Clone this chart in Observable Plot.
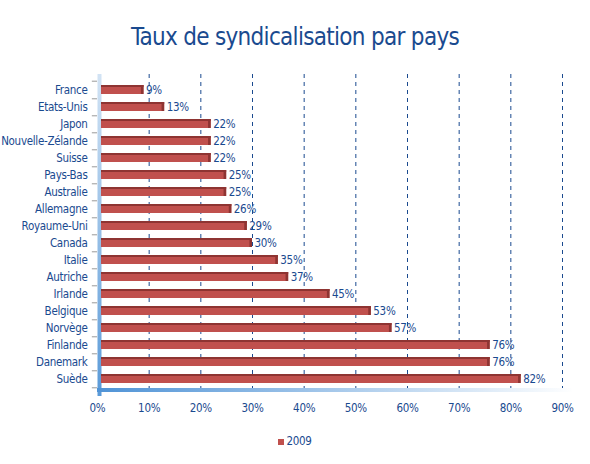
<!DOCTYPE html>
<html lang="fr">
<head>
    <meta charset="UTF-8">
    <title>Taux de syndicalisation par pays</title>
    <script src="https://cdn.jsdelivr.net/npm/d3@7"></script>
    <script src="https://cdn.jsdelivr.net/npm/@observablehq/plot@0.6"></script>
    <style>
        body { margin: 0; background: #fff; width: 590px; height: 464px; overflow: hidden;
               font-family: "DejaVu Sans Condensed", "DejaVu Sans", sans-serif; font-stretch: condensed; }
        h1 { margin: 0; padding-top: 23px; height: 37px; text-align: center; font-weight: normal;
             font-size: 24px; line-height: 28px; color: #1a4a8f; letter-spacing: -0.7px; }
        .legende { text-align: center; font-size: 11.5px; color: #1a4a8f; margin-top: 9px; letter-spacing: -0.3px; }
        .legende span { display: inline-block; width: 6px; height: 6px; background: #c0504d; margin-right: 2px; }
        #graph svg text { letter-spacing: -0.3px; }
    </style>
</head>
<body>
    <h1>Taux de syndicalisation par pays</h1>
    <div id="graph"></div>
    <div class="legende"><span></span>2009</div>

    <script>
    // données (2009)
    const pays = ["France", "Etats-Unis", "Japon", "Nouvelle-Zélande", "Suisse", "Pays-Bas", "Australie",
        "Allemagne", "Royaume-Uni", "Canada", "Italie", "Autriche", "Irlande", "Belgique", "Norvège",
        "Finlande", "Danemark", "Suède"];
    const taux = [9, 13, 22, 22, 22, 25, 25, 26, 29, 30, 35, 37, 45, 53, 57, 76, 76, 82];
    const graduations = [0, 10, 20, 30, 40, 50, 60, 70, 80, 90];

    const data = pays.map((p, i) => ({ pays: p, taux: taux[i] }));
    const bleu = "#1a4a8f";

    const div = document.querySelector("#graph");
    if (div) {
        const MonPlot = Plot.plot({
            width: 590,
            height: 365,
            marginLeft: 97,
            marginRight: 28,
            marginTop: 14,
            marginBottom: 32,
            style: { fontFamily: "DejaVu Sans Condensed, DejaVu Sans, sans-serif", fontSize: "11.5px", color: bleu },
            x: { domain: [0, 90], label: null },
            y: { domain: pays, padding: 0.5, label: null },
            marks: [
                // grille pointillée
                Plot.ruleX(graduations.slice(1), { stroke: bleu, strokeDasharray: "4,4", strokeWidth: 1 }),
                // petites graduations à gauche
                Plot.ruleY(pays, { y: d => d, x1: -1, x2: 0, dy: 8.8, stroke: "#999" }),
                Plot.ruleY([pays[0]], { x1: -1, x2: 0, dy: -8.8, stroke: "#999" }),
                // mur et sol
                Plot.ruleX([0], { stroke: "url(#mur)", strokeWidth: 4, dx: 2, insetBottom: -3 }),
                Plot.ruleY([pays[pays.length - 1]], { x1: 0, x2: 92, dy: 11, stroke: "url(#sol)", strokeWidth: 4 }),
                // barres
                Plot.barX(data, { x: "taux", y: "pays", fill: "#c0504d", insetLeft: 4 }),
                Plot.barX(data, { x: "taux", y: "pays", fill: "#8e3432", insetLeft: 4, insetBottom: 7 }),
                Plot.barX(data, { x1: d => d.taux - 0.5, x2: "taux", y: "pays", fill: "#8e3432" }),
                // étiquettes
                Plot.text(data, { x: "taux", y: "pays", text: d => d.taux + "%", dx: 2, textAnchor: "start", fill: bleu, fontSize: 11.5 }),
                Plot.axisX(graduations, { tickFormat: d => d + "%", tickSize: 0, tickPadding: 10, color: bleu, fontSize: 11.5, label: null }),
                Plot.axisY({ tickSize: 0, tickPadding: 10, color: bleu, fontSize: 11.5, label: null })
            ]
        });

        // dégradés pour le mur et le sol
        const defs = d3.select(MonPlot).insert("defs", ":first-child");
        const mur = defs.append("linearGradient").attr("id", "mur").attr("gradientUnits", "userSpaceOnUse")
            .attr("x1", 0).attr("x2", 0).attr("y1", 14).attr("y2", 336);
        mur.append("stop").attr("offset", "0%").attr("stop-color", "#d2e3f4");
        mur.append("stop").attr("offset", "100%").attr("stop-color", "#5a9ad8");
        const sol = defs.append("linearGradient").attr("id", "sol").attr("gradientUnits", "userSpaceOnUse")
            .attr("x1", 97).attr("x2", 575).attr("y1", 0).attr("y2", 0);
        sol.append("stop").attr("offset", "0%").attr("stop-color", "#4f93d6");
        sol.append("stop").attr("offset", "100%").attr("stop-color", "#ffffff");

        div.append(MonPlot);
    } else {
        console.error("Pas trouvé de ID 'graph'");
    }
    </script>
</body>
</html>
